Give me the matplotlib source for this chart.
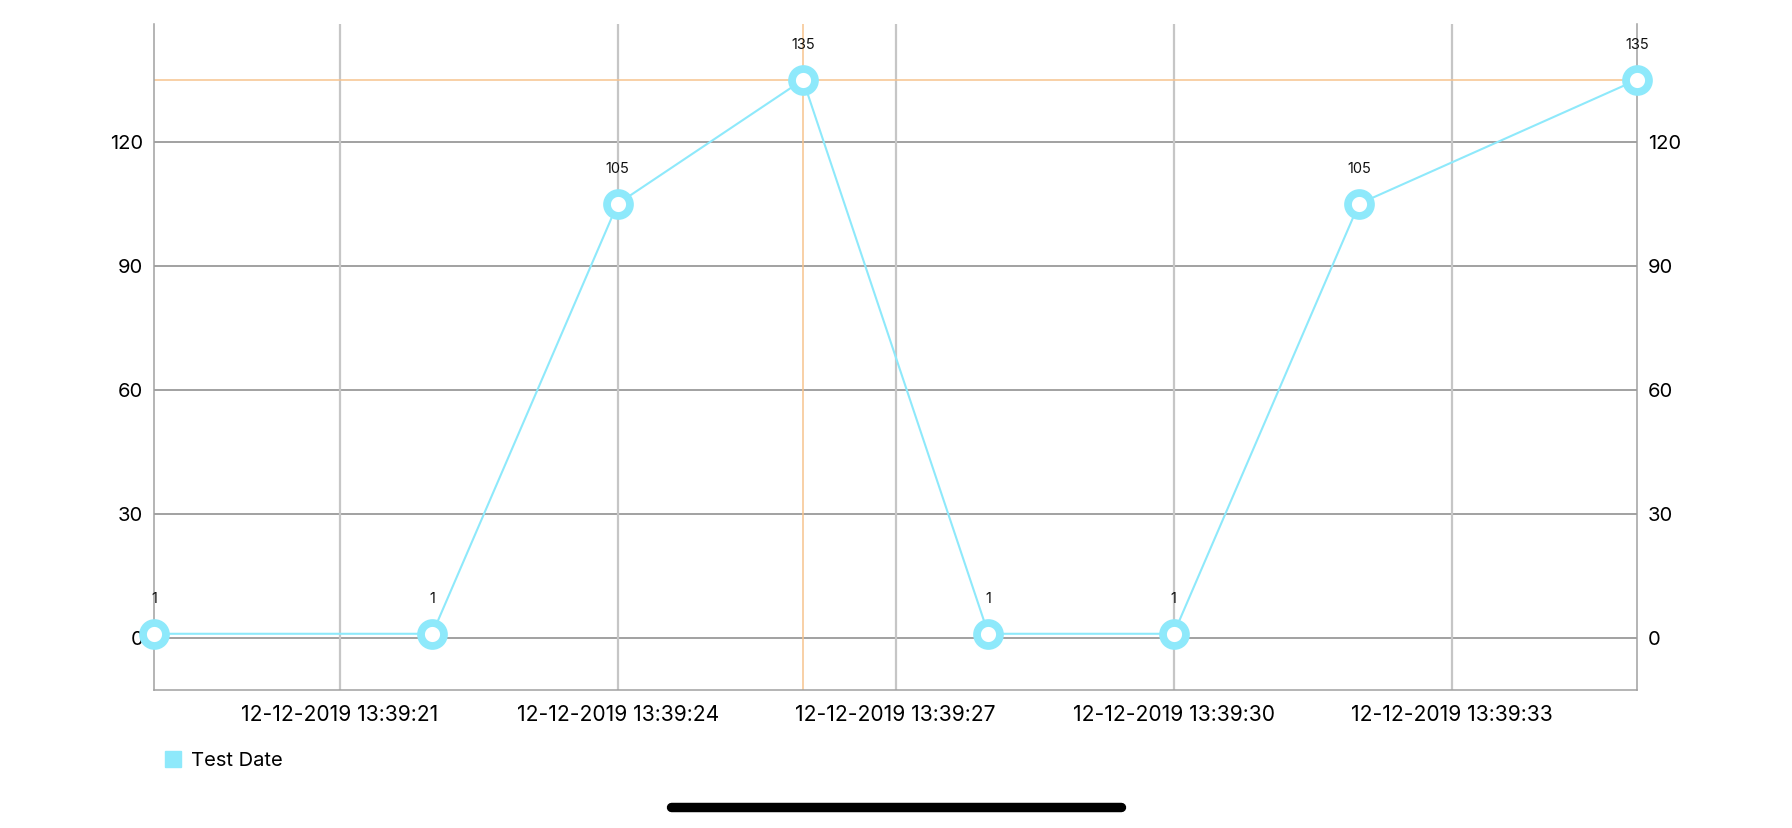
# Test Date line chart (iOS-style screenshot)

import datetime as dt
import matplotlib
matplotlib.use('Agg')
import matplotlib.pyplot as plt
import matplotlib.dates as mdates
from matplotlib.lines import Line2D

plt.rcParams['font.family'] = ['Inter', 'DejaVu Sans']

times = ['12-12-2019 13:39:19', '12-12-2019 13:39:22', '12-12-2019 13:39:24', '12-12-2019 13:39:26',
         '12-12-2019 13:39:28', '12-12-2019 13:39:30', '12-12-2019 13:39:32', '12-12-2019 13:39:35']
values = [1, 1, 105, 135, 1, 1, 105, 135]
y_ticks = [0, 30, 60, 90, 120]
series_name = 'Test Date'
highlight_time = '12-12-2019 13:39:26'
highlight_value = 135

x = [dt.datetime.strptime(t, '%d-%m-%Y %H:%M:%S') for t in times]
hx = dt.datetime.strptime(highlight_time, '%d-%m-%Y %H:%M:%S')

line_color = '#8ee9fb'

fig = plt.figure(figsize=(17.92, 8.2801), dpi=100)
ax = fig.add_axes([154.3 / 1792, 1 - 690 / 828, (1637 - 154.3) / 1792, (690 - 24) / 828])

ax.set_xlim(x[0], x[-1])
ax.set_ylim(-12.6, 148.5)

# grid
for yv in y_ticks:
    ax.axhline(yv, color='#888888', lw=1.1, zorder=1)
ax.xaxis.set_major_locator(mdates.SecondLocator(bysecond=range(0, 60, 3)))
ax.xaxis.set_major_formatter(mdates.DateFormatter('%d-%m-%Y %H:%M:%S'))
ax.grid(axis='x', color='#c6c6c6', lw=1.6, zorder=1)
ax.set_yticks(y_ticks)

# highlight crosshair
ax.axvline(hx, color='#f7c38e', lw=1.1, zorder=2)
ax.axhline(highlight_value, color='#f7c38e', lw=1.1, zorder=2)

ax.plot(x, values, color=line_color, lw=1.5, marker='o', ms=16.5, mew=5.6,
        mec=line_color, mfc='white', zorder=4, clip_on=False)

for xi, v in zip(x, values):
    ax.annotate(str(v), (xi, v), xytext=(0, 22), textcoords='offset points',
                ha='center', va='baseline', fontsize=10.5, color='#111111', zorder=5)

for side in ['left', 'right', 'bottom']:
    ax.spines[side].set_color('#a0a0a0')
    ax.spines[side].set_linewidth(1.1)
ax.spines['top'].set_visible(False)

ax.tick_params(axis='y', length=0, labelsize=14.5, labelright=True, pad=8)
ax.tick_params(axis='x', length=0, labelsize=15.2, pad=10.5)

handle = Line2D([], [], color=line_color, marker='s', ls='none', ms=12)
fig.legend([handle], [series_name], loc='center left', bbox_to_anchor=(163 / 1792, 1 - 761 / 828),
           frameon=False, fontsize=14.5, handlelength=0.95, handletextpad=0.45,
           borderpad=0, borderaxespad=0)

# home indicator bar
fig.add_artist(Line2D([(666.7 + 4.7) / 1792, (1125.7 - 4.7) / 1792], [1 - 807 / 828, 1 - 807 / 828],
                      transform=fig.transFigure, color='black', lw=6.8, solid_capstyle='round'))

fig.savefig('out.png', dpi=100)
